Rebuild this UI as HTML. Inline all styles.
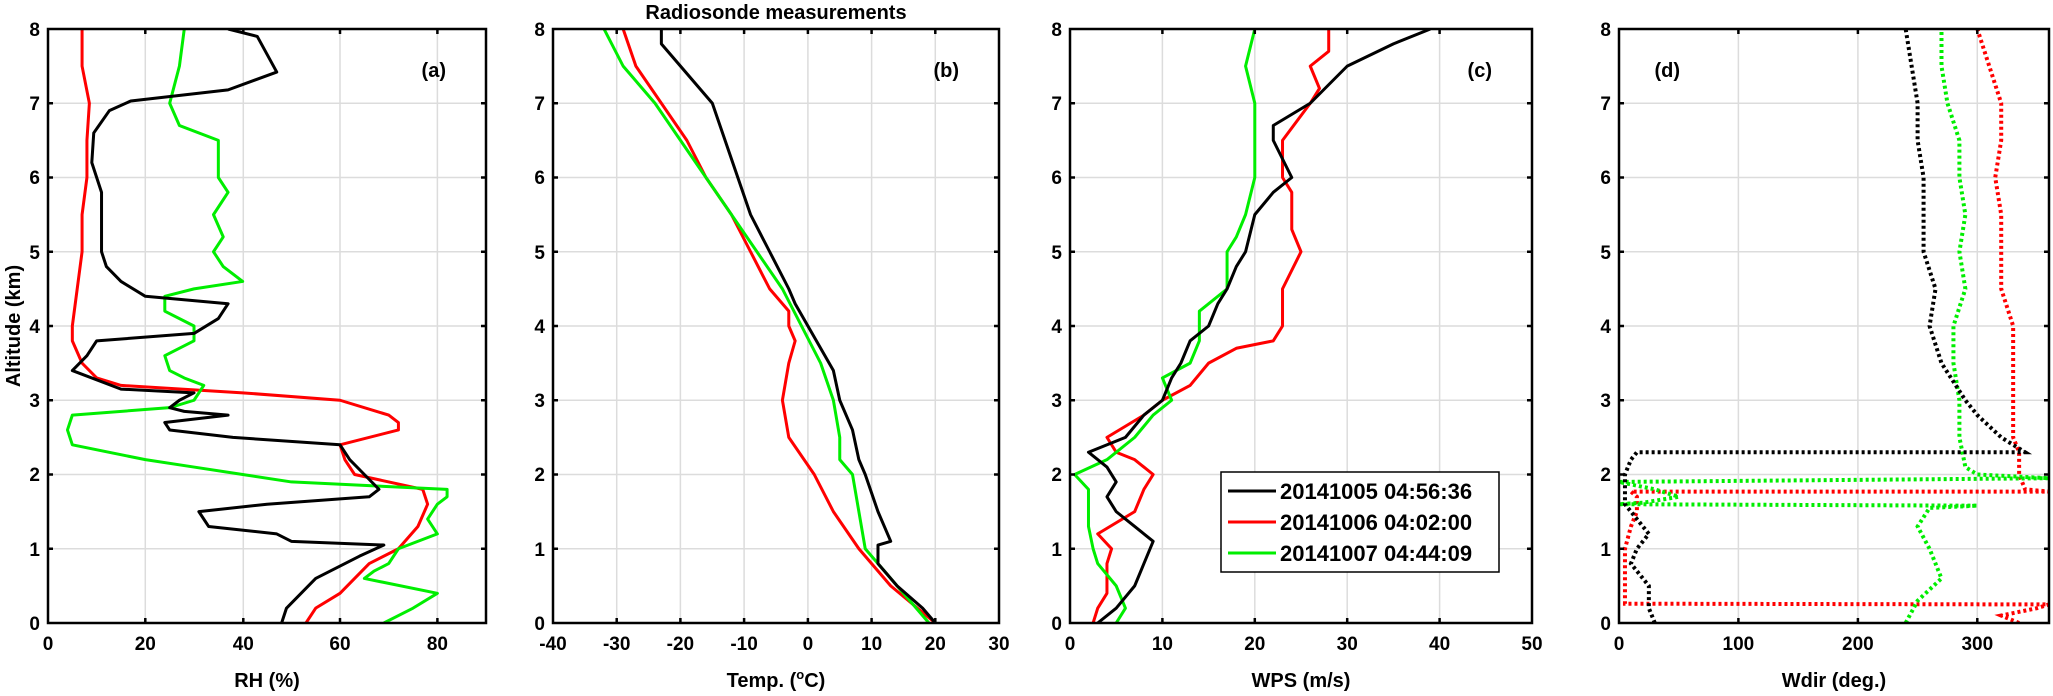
<!DOCTYPE html>
<html><head><meta charset="utf-8"><style>
html,body{margin:0;padding:0;background:#fff;}
svg{display:block;}
text{font-family:"Liberation Sans",Arial,sans-serif;font-weight:bold;fill:#000;}
.t{font-size:19px;}
.ln{fill:none;stroke-width:3;vector-effect:non-scaling-stroke;stroke-linejoin:round;}
.dt{fill:none;stroke-width:4;stroke-dasharray:3 3;vector-effect:non-scaling-stroke;}
.g{stroke:#dcdcdc;stroke-width:1.5;}
.ax{fill:none;stroke:#000;stroke-width:2.5;}
</style></head><body>
<svg width="2053" height="696" viewBox="0 0 2053 696" xmlns="http://www.w3.org/2000/svg">
<defs>
<clipPath id="ca"><rect x="48" y="29" width="438" height="594"/></clipPath>
<clipPath id="cb"><rect x="553" y="29" width="446" height="594"/></clipPath>
<clipPath id="cc"><rect x="1070" y="29" width="462" height="594"/></clipPath>
<clipPath id="cd"><rect x="1619" y="29" width="430" height="594"/></clipPath>
</defs>
<text x="776" y="19" font-size="20" text-anchor="middle">Radiosonde measurements</text>
<text transform="translate(20,326) rotate(-90)" font-size="20" text-anchor="middle">Altitude (km)</text>

<!-- Horizontal gridlines for all panels -->
<g class="g">
<path d="M48 548.75H486M48 474.5H486M48 400.25H486M48 326H486M48 251.75H486M48 177.5H486M48 103.25H486"/>
<path d="M553 548.75H999M553 474.5H999M553 400.25H999M553 326H999M553 251.75H999M553 177.5H999M553 103.25H999"/>
<path d="M1070 548.75H1532M1070 474.5H1532M1070 400.25H1532M1070 326H1532M1070 251.75H1532M1070 177.5H1532M1070 103.25H1532"/>
<path d="M1619 548.75H2049M1619 474.5H2049M1619 400.25H2049M1619 326H2049M1619 251.75H2049M1619 177.5H2049M1619 103.25H2049"/>
<path d="M145.3 29V623M243.3 29V623M340 29V623M437.4 29V623"/>
<path d="M616.7 29V623M680.4 29V623M744.1 29V623M807.9 29V623M871.6 29V623M935.3 29V623"/>
<path d="M1162.4 29V623M1254.8 29V623M1347.2 29V623M1439.6 29V623"/>
<path d="M1738.4 29V623M1857.9 29V623M1977.3 29V623"/>
</g>

<!-- Panel a -->
<g clip-path="url(#ca)">
<g transform="translate(48,623) scale(4.867,-74.25)">
<polyline class="ln" stroke="#ff0000" points="53,0 55,0.2 60,0.4 63,0.6 66,0.8 72,1 76,1.3 78,1.6 77,1.8 63,2 61,2.2 60,2.4 72,2.6 72,2.7 70,2.8 60,3 40,3.1 15,3.2 10,3.3 7,3.5 5,3.8 5,4 6,4.5 7,5 7,5.5 8,6 8,6.5 8.5,7 7,7.5 7,8"/>
<polyline class="ln" stroke="#00ee00" points="69,0 75,0.2 80,0.4 65,0.6 67,0.7 70,0.8 72,1 80,1.2 78,1.4 80,1.6 82,1.7 82,1.8 50,1.9 40,2 30,2.1 20,2.2 5,2.4 4,2.6 5,2.8 25,2.9 30,3 32,3.2 28,3.3 25,3.4 24,3.6 30,3.8 30,4 24,4.2 24,4.4 30,4.5 40,4.6 36,4.8 34,5 36,5.2 34,5.5 37,5.8 35,6 35,6.5 27,6.7 25,7 27,7.5 28,8"/>
<polyline class="ln" stroke="#000" points="48,0 49,0.2 55,0.6 64,0.9 69,1.05 50,1.1 47,1.2 33,1.3 31,1.5 45,1.6 66,1.7 68,1.8 65,2 62,2.2 60,2.4 38,2.5 25,2.6 24,2.7 37,2.8 28,2.85 25,2.9 27,3 30,3.1 15,3.15 5,3.4 8,3.6 10,3.8 30,3.9 35,4.1 37,4.3 20,4.4 15,4.6 12,4.8 11,5 11,5.5 11,5.8 9,6.2 9.4,6.6 12.6,6.9 17,7.03 37,7.18 47,7.42 43,7.9 37,8"/>
</g></g>

<!-- Panel b -->
<g clip-path="url(#cb)">
<g transform="translate(807.9,623) scale(6.371,-74.25)">
<polyline class="ln" stroke="#ff0000" points="20,0 13,0.5 8,1 4,1.5 1,2 -3,2.5 -4,3 -3,3.5 -2,3.8 -3,4 -3,4.2 -6,4.5 -9,5 -12,5.5 -16,6 -19,6.5 -23,7 -27,7.5 -29,8"/>
<polyline class="ln" stroke="#00ee00" points="19,0 14,0.5 9,1 8,1.5 7,2 5,2.2 5,2.5 4,3 2,3.5 -1,4 -4,4.5 -8,5 -12,5.5 -16,6 -20,6.5 -24,7 -29,7.5 -32,8"/>
<polyline class="ln" stroke="#000" points="20,0 18,0.2 14,0.5 11,0.8 11,1.05 13,1.1 11,1.5 9,2 8,2.2 7,2.6 5,3 4,3.4 2,3.7 0,4 -2,4.3 -3,4.5 -6,5 -9,5.5 -11,6 -13,6.5 -15,7 -20,7.5 -23,7.8 -23,8"/>
</g></g>

<!-- Panel c -->
<g clip-path="url(#cc)">
<g transform="translate(1070,623) scale(9.24,-74.25)">
<polyline class="ln" stroke="#ff0000" points="2.5,0 3,0.2 4,0.4 4,0.6 4,0.8 4.5,1 3,1.2 7,1.5 8,1.8 9,2 7,2.2 5,2.3 4,2.5 8,2.8 10,3 13,3.2 15,3.5 18,3.7 22,3.8 23,4 23,4.5 25,5 24,5.3 24,5.5 24,5.8 23,6 23,6.5 26,7 27,7.2 26,7.5 28,7.7 28,8"/>
<polyline class="ln" stroke="#00ee00" points="5,0 6,0.2 5,0.5 3,0.8 2.5,1 2,1.3 2,1.6 2,1.8 0.5,2 4,2.2 7,2.5 9,2.8 11,3 10,3.3 13,3.5 14,3.8 14,4 14,4.2 17,4.5 17,5 18,5.2 19,5.5 20,6 20,6.5 20,7 19,7.5 20,8"/>
<polyline class="ln" stroke="#000" points="3,0 5,0.2 7,0.5 8,0.8 9,1.1 7,1.3 5,1.5 4,1.7 5,1.9 4,2.1 2,2.3 6,2.5 8,2.8 10,3 11,3.3 12,3.5 13,3.8 15,4 16,4.3 17,4.5 18,4.8 19,5 20,5.5 22,5.8 24,6 22,6.5 22,6.7 26,7 30,7.5 35,7.8 39,8"/>
</g></g>

<!-- Panel d -->
<g clip-path="url(#cd)">
<g transform="translate(1619,623) scale(1.1944,-74.25)">
<polyline class="dt" stroke="#ff0000" points="335,0 320,0.1 350,0.2 360,0.25 5,0.26 5,0.5 5,1 10,1.3 15,1.5 15,1.7 10,1.77 360,1.77 340,1.8 335,2 335,2.3 330,2.5 330,3 330,3.5 330,4 320,4.5 320,5 320,5.5 315,6 320,6.5 320,7 310,7.5 300,8"/>
<polyline class="dt" stroke="#00ee00" points="240,0 250,0.3 270,0.6 260,1 250,1.3 260,1.55 300,1.58 0,1.6 20,1.62 50,1.7 30,1.8 0,1.9 360,1.95 300,2 290,2.1 285,2.5 285,3 280,3.5 280,4 290,4.5 285,5 290,5.5 285,6 285,6.5 275,7 270,7.5 270,8"/>
<polyline class="dt" stroke="#000" points="30,0 25,0.2 25,0.5 10,0.8 15,1 25,1.2 10,1.5 5,1.6 5,1.8 5,2 10,2.2 15,2.3 340,2.3 320,2.5 300,2.8 290,3 270,3.5 260,4 265,4.5 255,5 255,5.5 255,6 250,6.5 250,7 245,7.5 240,8"/>
</g></g>

<!-- Axes boxes and ticks -->
<g class="ax">
<rect x="48" y="29" width="438" height="594"/>
<rect x="553" y="29" width="446" height="594"/>
<rect x="1070" y="29" width="462" height="594"/>
<rect x="1619" y="29" width="430" height="594"/>
</g>
<g stroke="#000" stroke-width="2.5">
<path d="M48 548.75h5M48 474.5h5M48 400.25h5M48 326h5M48 251.75h5M48 177.5h5M48 103.25h5M486 548.75h-5M486 474.5h-5M486 400.25h-5M486 326h-5M486 251.75h-5M486 177.5h-5M486 103.25h-5"/>
<path d="M553 548.75h5M553 474.5h5M553 400.25h5M553 326h5M553 251.75h5M553 177.5h5M553 103.25h5M999 548.75h-5M999 474.5h-5M999 400.25h-5M999 326h-5M999 251.75h-5M999 177.5h-5M999 103.25h-5"/>
<path d="M1070 548.75h5M1070 474.5h5M1070 400.25h5M1070 326h5M1070 251.75h5M1070 177.5h5M1070 103.25h5M1532 548.75h-5M1532 474.5h-5M1532 400.25h-5M1532 326h-5M1532 251.75h-5M1532 177.5h-5M1532 103.25h-5"/>
<path d="M1619 548.75h5M1619 474.5h5M1619 400.25h5M1619 326h5M1619 251.75h5M1619 177.5h5M1619 103.25h5M2049 548.75h-5M2049 474.5h-5M2049 400.25h-5M2049 326h-5M2049 251.75h-5M2049 177.5h-5M2049 103.25h-5"/>
<path d="M145.3 623v-5M243.3 623v-5M340 623v-5M437.4 623v-5M145.3 29v5M243.3 29v5M340 29v5M437.4 29v5"/>
<path d="M616.7 623v-5M680.4 623v-5M744.1 623v-5M807.9 623v-5M871.6 623v-5M935.3 623v-5M616.7 29v5M680.4 29v5M744.1 29v5M807.9 29v5M871.6 29v5M935.3 29v5"/>
<path d="M1162.4 623v-5M1254.8 623v-5M1347.2 623v-5M1439.6 623v-5M1162.4 29v5M1254.8 29v5M1347.2 29v5M1439.6 29v5"/>
<path d="M1738.4 623v-5M1857.9 623v-5M1977.3 623v-5M1738.4 29v5M1857.9 29v5M1977.3 29v5"/>
</g>

<!-- Y tick labels -->
<g class="t" text-anchor="end">
<text x="40" y="630">0</text><text x="40" y="556">1</text><text x="40" y="481">2</text><text x="40" y="407">3</text><text x="40" y="333">4</text><text x="40" y="259">5</text><text x="40" y="184">6</text><text x="40" y="110">7</text><text x="40" y="36">8</text>
<text x="545" y="630">0</text><text x="545" y="556">1</text><text x="545" y="481">2</text><text x="545" y="407">3</text><text x="545" y="333">4</text><text x="545" y="259">5</text><text x="545" y="184">6</text><text x="545" y="110">7</text><text x="545" y="36">8</text>
<text x="1062" y="630">0</text><text x="1062" y="556">1</text><text x="1062" y="481">2</text><text x="1062" y="407">3</text><text x="1062" y="333">4</text><text x="1062" y="259">5</text><text x="1062" y="184">6</text><text x="1062" y="110">7</text><text x="1062" y="36">8</text>
<text x="1611" y="630">0</text><text x="1611" y="556">1</text><text x="1611" y="481">2</text><text x="1611" y="407">3</text><text x="1611" y="333">4</text><text x="1611" y="259">5</text><text x="1611" y="184">6</text><text x="1611" y="110">7</text><text x="1611" y="36">8</text>
</g>
<!-- X tick labels -->
<g class="t" text-anchor="middle">
<text x="48" y="650">0</text><text x="145.3" y="650">20</text><text x="243.3" y="650">40</text><text x="340" y="650">60</text><text x="437.4" y="650">80</text>
<text x="553" y="650">-40</text><text x="616.7" y="650">-30</text><text x="680.4" y="650">-20</text><text x="744.1" y="650">-10</text><text x="807.9" y="650">0</text><text x="871.6" y="650">10</text><text x="935.3" y="650">20</text><text x="999" y="650">30</text>
<text x="1070" y="650">0</text><text x="1162.4" y="650">10</text><text x="1254.8" y="650">20</text><text x="1347.2" y="650">30</text><text x="1439.6" y="650">40</text><text x="1532" y="650">50</text>
<text x="1619" y="650">0</text><text x="1738.4" y="650">100</text><text x="1857.9" y="650">200</text><text x="1977.3" y="650">300</text>
</g>
<!-- Axis titles -->
<g font-size="20" text-anchor="middle">
<text x="267" y="687">RH (%)</text>
<text x="776" y="687">Temp. (<tspan font-size="13" dy="-8">o</tspan><tspan dy="8">C)</tspan></text>
<text x="1301" y="687">WPS (m/s)</text>
<text x="1834" y="687">Wdir (deg.)</text>
</g>
<!-- Panel labels -->
<g font-size="20" text-anchor="end">
<text x="446" y="77">(a)</text>
<text x="959" y="77">(b)</text>
<text x="1492" y="77">(c)</text>
<text x="1680" y="77">(d)</text>
</g>
<!-- Legend -->
<rect x="1221" y="472" width="278" height="100" fill="#fff" stroke="#000" stroke-width="1.5"/>
<path d="M1228 491h48" stroke="#000" stroke-width="3"/>
<path d="M1228 522h48" stroke="#ff0000" stroke-width="3"/>
<path d="M1228 553h48" stroke="#00ee00" stroke-width="3"/>
<g font-size="22">
<text x="1280" y="499">20141005 04:56:36</text>
<text x="1280" y="530">20141006 04:02:00</text>
<text x="1280" y="561">20141007 04:44:09</text>
</g>
</svg>
</body></html>
